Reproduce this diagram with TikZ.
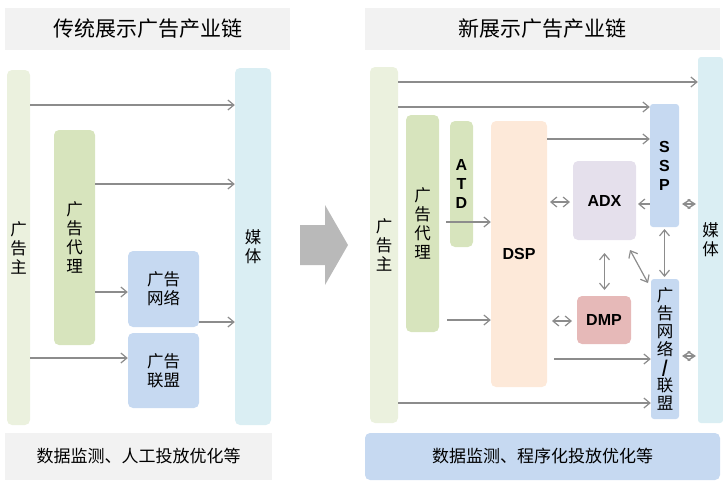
\documentclass[tikz,border=0pt]{standalone}
\usepackage{fontspec}
\setmainfont{Liberation Sans}
\newfontfamily\cjk{Noto Sans CJK SC}
\usetikzlibrary{arrows.meta}
\definecolor{gz}{HTML}{EBF1DE}
\definecolor{gd}{HTML}{D7E4BD}
\definecolor{mt}{HTML}{DAEEF3}
\definecolor{bl}{HTML}{C6D9F1}
\definecolor{dsp}{HTML}{FDE9D9}
\definecolor{adx}{HTML}{E5E0EC}
\definecolor{dmp}{HTML}{E6B9B8}
\definecolor{tb}{HTML}{F2F2F2}
\definecolor{ar}{HTML}{8C8C8C}
\begin{document}
\begin{tikzpicture}[x=1pt,y=-1pt,
  box/.style={draw=none,rounded corners=5pt,align=center,inner sep=0pt,font=\cjk\fontsize{16.5}{19}\selectfont},
  lat/.style={font=\bfseries\fontsize{16}{19}\selectfont},
  arr/.style={draw=ar,line width=1.2pt,-{Straight Barb[length=6pt,width=10pt]}},
  dbl/.style={draw=ar,line width=1.2pt,{Straight Barb[length=6pt,width=10pt]}-{Straight Barb[length=6pt,width=10pt]}},
  dia/.style={draw=ar,line width=1.4pt,{Straight Barb[length=7pt,width=9pt]}-{Straight Barb[length=7pt,width=9pt]}}]
\useasboundingbox (0,0) rectangle (723,483);
% titles
\node[box,fill=tb,rounded corners=0pt,minimum width=285pt,minimum height=42pt,font=\cjk\fontsize{21}{24}\selectfont] (t1) at (147.5,29) {传统展示广告产业链};
\node[box,fill=tb,rounded corners=0pt,minimum width=355pt,minimum height=42pt,font=\cjk\fontsize{21}{24}\selectfont] (t2) at (542.5,29) {新展示广告产业链};
% left
\node[box,fill=gz,minimum width=23pt,minimum height=355pt] (lz) at (18.5,247.5) {广\\告\\主};
\node[box,fill=gd,minimum width=41pt,minimum height=215pt] (ld) at (74.5,237.5) {广\\告\\代\\理};
\node[box,fill=mt,minimum width=36pt,minimum height=357pt] (lm) at (253,246.5) {媒\\体};
\node[box,fill=bl,minimum width=71pt,minimum height=76pt] (lw) at (163.5,289) {广告\\网络};
\node[box,fill=bl,minimum width=71pt,minimum height=75pt] (ll) at (163.5,370.5) {广告\\联盟};
\node[box,fill=tb,rounded corners=0pt,minimum width=267pt,minimum height=47pt,font=\cjk\fontsize{17}{20}\selectfont] (b1) at (138.5,456.5) {数据监测、人工投放优化等};
\draw[arr] (lz.east|-0,105) -- (lm.west|-0,105);
\draw[arr] (ld.east|-0,184) -- (lm.west|-0,184);
\draw[arr] (ld.east|-0,292) -- (lw.west|-0,292);
\draw[arr] (lw.east|-0,322) -- (lm.west|-0,322);
\draw[arr] (lz.east|-0,358) -- (ll.west|-0,358);
% big arrow
\fill[gray!55] (300,225) -- (325,225) -- (325,205) -- (348,245) -- (325,285) -- (325,265) -- (300,265) -- cycle;
% right
\node[box,fill=gz,minimum width=28pt,minimum height=356pt] (rz) at (384,245) {广\\告\\主};
\node[box,fill=gd,minimum width=33pt,minimum height=217pt] (rd) at (422.5,223.5) {广\\告\\代\\理};
\node[box,fill=gd,minimum width=23pt,minimum height=126pt,lat] (atd) at (461.5,184) {A\\T\\D};
\node[box,fill=dsp,minimum width=56pt,minimum height=266pt,lat] (dsp) at (519,254) {DSP};
\node[box,fill=adx,minimum width=63pt,minimum height=79pt,lat] (adx) at (604.5,200.5) {ADX};
\node[box,fill=dmp,minimum width=54pt,minimum height=48pt,lat] (dmp) at (604,320) {DMP};
\node[box,fill=bl,minimum width=29pt,minimum height=123pt,lat,rounded corners=3pt] (ssp) at (664.5,165.5) {S\\S\\P};
\node[box,fill=bl,minimum width=28pt,minimum height=140pt,rounded corners=3pt,font=\cjk\fontsize{16.5}{18}\selectfont] (rw) at (665,349) {广\\告\\网\\络\\{\bfseries /}\\联\\盟};
\node[box,fill=mt,minimum width=25pt,minimum height=366pt,rounded corners=3pt] (rm) at (710.5,240) {媒\\体};
\node[box,fill=bl,rounded corners=5pt,minimum width=355pt,minimum height=47pt,font=\cjk\fontsize{17}{20}\selectfont] (b2) at (542.5,456.5) {数据监测、程序化投放优化等};
\draw[arr] (rz.east|-0,82) -- (rm.west|-0,82);
\draw[arr] (rz.east|-0,107) -- (ssp.west|-0,107);
\draw[arr] (dsp.east|-0,139) -- (ssp.west|-0,139);
\draw[dbl] (550,202) -- (570,202);
\draw[arr] (ssp.west|-0,204) -- (638,204);
\draw[dia] (682,204) -- (696,204);
\draw[arr] (446,222) -- (dsp.west|-0,222);
\draw[dbl] (adx.south|-0,253) -- (adx.south|-0,290);
\draw[dbl] (630,250) -- (648,283);
\draw[dbl] (ssp.south|-0,229) -- (ssp.south|-0,277);
\draw[arr] (447,320) -- (dsp.west|-0,320);
\draw[dbl] (552,321) -- (572,321);
\draw[arr] (554,359) -- (rw.west|-0,359);
\draw[dia] (682,356) -- (696,356);
\draw[arr] (rz.east|-0,403) -- (rw.west|-0,403);
\end{tikzpicture}
\end{document}
